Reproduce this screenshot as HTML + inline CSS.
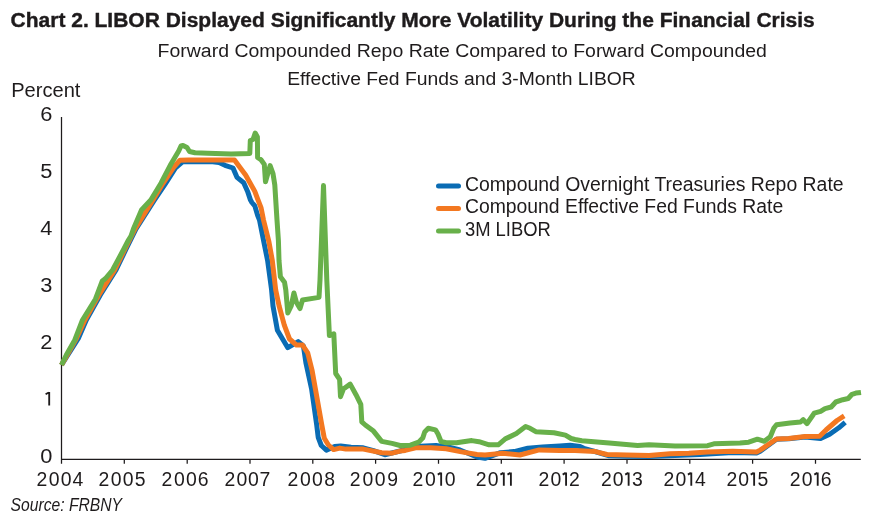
<!DOCTYPE html>
<html><head><meta charset="utf-8"><style>
html,body{margin:0;padding:0;background:#fff;width:878px;height:518px;overflow:hidden}
svg{display:block;will-change:transform}
text{font-family:"Liberation Sans",sans-serif;fill:#1E1B1C}
</style></head><body>
<svg width="878" height="518" viewBox="0 0 878 518">
<text x="10.6" y="26.9" font-size="20.9" font-weight="bold" stroke="#1E1B1C" stroke-width="0.4" textLength="804.2" lengthAdjust="spacingAndGlyphs">Chart 2. LIBOR Displayed Significantly More Volatility During the Financial Crisis</text>
<text x="157.6" y="56.6" font-size="19.2" textLength="609.3" lengthAdjust="spacingAndGlyphs">Forward Compounded Repo Rate Compared to Forward Compounded</text>
<text x="287.2" y="84.7" font-size="19.2" textLength="348.6" lengthAdjust="spacingAndGlyphs">Effective Fed Funds and 3-Month LIBOR</text>
<text x="11.2" y="96.6" font-size="19.4" textLength="69.2" lengthAdjust="spacingAndGlyphs">Percent</text>
<text transform="translate(52.3 462.5) scale(1.120 1)" text-anchor="end" font-size="19.50">0</text><path d="M45.6 394.30 L48.8 392.50 M49.2 392.00 V405.60" fill="none" stroke="#1E1B1C" stroke-width="1.85" stroke-linejoin="round"/><text transform="translate(52.3 348.5) scale(1.120 1)" text-anchor="end" font-size="19.50">2</text><text transform="translate(52.3 291.5) scale(1.120 1)" text-anchor="end" font-size="19.50">3</text><text transform="translate(52.3 234.5) scale(1.120 1)" text-anchor="end" font-size="19.50">4</text><text transform="translate(52.3 177.5) scale(1.120 1)" text-anchor="end" font-size="19.50">5</text><text transform="translate(52.3 120.5) scale(1.120 1)" text-anchor="end" font-size="19.50">6</text>
<text x="36.42" y="485.7" font-size="19.40">2</text><text x="48.66" y="485.7" font-size="19.40">0</text><text x="60.67" y="485.7" font-size="19.40">0</text><text x="72.38" y="485.7" font-size="19.40">4</text><text x="98.62" y="485.7" font-size="19.40">2</text><text x="110.84" y="485.7" font-size="19.40">0</text><text x="122.84" y="485.7" font-size="19.40">0</text><text x="134.83" y="485.7" font-size="19.40">5</text><text x="161.62" y="485.7" font-size="19.40">2</text><text x="173.92" y="485.7" font-size="19.40">0</text><text x="186.01" y="485.7" font-size="19.40">0</text><text x="197.86" y="485.7" font-size="19.40">6</text><text x="224.62" y="485.7" font-size="19.40">2</text><text x="236.47" y="485.7" font-size="19.40">0</text><text x="248.10" y="485.7" font-size="19.40">0</text><text x="259.49" y="485.7" font-size="19.40">7</text><text x="287.62" y="485.7" font-size="19.40">2</text><text x="299.97" y="485.7" font-size="19.40">0</text><text x="312.11" y="485.7" font-size="19.40">0</text><text x="324.15" y="485.7" font-size="19.40">8</text><text x="349.82" y="485.7" font-size="19.40">2</text><text x="362.46" y="485.7" font-size="19.40">0</text><text x="374.87" y="485.7" font-size="19.40">0</text><text x="387.13" y="485.7" font-size="19.40">9</text><text x="412.62" y="485.7" font-size="19.40">2</text><text x="424.93" y="485.7" font-size="19.40">0</text><path d="M437.76 474.6 L440.66 472.9 M441.16 472.4 V485.7" fill="none" stroke="#1E1B1C" stroke-width="1.85" stroke-linejoin="round"/><text x="444.77" y="485.7" font-size="19.40">0</text><text x="475.72" y="485.7" font-size="19.40">2</text><text x="487.80" y="485.7" font-size="19.40">0</text><path d="M500.41 474.6 L503.31 472.9 M503.81 472.4 V485.7" fill="none" stroke="#1E1B1C" stroke-width="1.85" stroke-linejoin="round"/><path d="M507.50 474.6 L510.40 472.9 M510.90 472.4 V485.7" fill="none" stroke="#1E1B1C" stroke-width="1.85" stroke-linejoin="round"/><text x="538.62" y="485.7" font-size="19.40">2</text><text x="550.38" y="485.7" font-size="19.40">0</text><path d="M562.68 474.6 L565.58 472.9 M566.08 472.4 V485.7" fill="none" stroke="#1E1B1C" stroke-width="1.85" stroke-linejoin="round"/><text x="569.09" y="485.7" font-size="19.40">2</text><text x="600.92" y="485.7" font-size="19.40">2</text><text x="612.81" y="485.7" font-size="19.40">0</text><path d="M625.23 474.6 L628.13 472.9 M628.63 472.4 V485.7" fill="none" stroke="#1E1B1C" stroke-width="1.85" stroke-linejoin="round"/><text x="631.96" y="485.7" font-size="19.40">3</text><text x="663.42" y="485.7" font-size="19.40">2</text><text x="675.39" y="485.7" font-size="19.40">0</text><path d="M687.89 474.6 L690.79 472.9 M691.29 472.4 V485.7" fill="none" stroke="#1E1B1C" stroke-width="1.85" stroke-linejoin="round"/><text x="694.98" y="485.7" font-size="19.40">4</text><text x="726.42" y="485.7" font-size="19.40">2</text><text x="738.31" y="485.7" font-size="19.40">0</text><path d="M750.73 474.6 L753.63 472.9 M754.13 472.4 V485.7" fill="none" stroke="#1E1B1C" stroke-width="1.85" stroke-linejoin="round"/><text x="757.43" y="485.7" font-size="19.40">5</text><text x="789.82" y="485.7" font-size="19.40">2</text><text x="801.80" y="485.7" font-size="19.40">0</text><path d="M814.31 474.6 L817.21 472.9 M817.71 472.4 V485.7" fill="none" stroke="#1E1B1C" stroke-width="1.85" stroke-linejoin="round"/><text x="820.86" y="485.7" font-size="19.40">6</text>
<text x="10.6" y="510.5" font-size="18.5" font-style="italic" textLength="111.4" lengthAdjust="spacingAndGlyphs">Source: FRBNY</text>
<path d="M61.5 117 V459.4 H860.8 M61.5 459.4 V463.8M124.3 459.4 V463.8M187.2 459.4 V463.8M250.0 459.4 V463.8M312.8 459.4 V463.8M375.6 459.4 V463.8M438.5 459.4 V463.8M501.3 459.4 V463.8M564.1 459.4 V463.8M627.0 459.4 V463.8M689.8 459.4 V463.8M752.6 459.4 V463.8M815.5 459.4 V463.8" fill="none" stroke="#1E1B1C" stroke-width="1.25"/>
<g fill="none" stroke-width="5" stroke-linejoin="round" stroke-linecap="butt">
<path d="M61.5 365.0 L78.3 338.5 L86.3 320.0 L100.3 295.0 L116.0 270.0 L125.6 250.0 L136.0 229.0 L154.5 200.0 L165.8 183.0 L175.5 168.0 L182.5 161.8 L198.3 161.5 L212.7 161.8 L219.0 162.5 L225.0 165.3 L233.0 168.0 L236.0 175.0 L237.0 177.4 L243.7 182.7 L247.6 191.4 L250.5 200.1 L251.9 202.5 L254.8 205.9 L257.7 215.6 L259.5 220.0 L263.5 240.3 L267.6 260.5 L271.6 290.0 L273.0 306.0 L277.4 330.3 L282.6 339.0 L287.8 347.7 L298.2 341.6 L303.4 346.0 L306.0 363.3 L311.6 389.0 L316.7 425.0 L318.2 437.3 L321.3 445.5 L326.4 450.1 L334.6 446.5 L340.7 446.0 L351.0 447.3 L363.3 447.8 L373.5 450.6 L384.8 454.7 L400.0 451.0 L415.0 446.5 L436.0 445.5 L450.0 447.5 L460.0 450.0 L477.0 457.0 L485.0 458.3 L500.5 452.7 L514.2 451.6 L527.8 448.2 L542.6 447.0 L559.7 446.0 L570.0 445.3 L580.0 446.5 L583.8 448.3 L596.6 452.0 L609.3 455.8 L626.3 456.3 L649.0 456.5 L675.0 455.5 L700.0 454.5 L732.7 452.5 L756.5 453.0 L760.2 451.2 L776.5 439.3 L788.7 438.8 L805.1 437.0 L820.6 438.5 L829.7 434.2 L838.8 427.8 L845.2 422.3" stroke="#0A6CB4"/>
<path d="M61.5 365.0 L76.4 338.5 L84.9 320.0 L98.9 295.0 L114.7 270.0 L124.5 250.0 L135.0 229.0 L153.0 200.0 L163.2 183.0 L173.5 167.5 L180.0 160.2 L188.6 160.0 L234.5 160.0 L240.0 167.4 L245.6 175.0 L250.5 183.7 L254.8 191.4 L257.7 199.2 L261.1 207.9 L263.5 220.0 L268.9 241.6 L272.3 260.5 L275.7 290.0 L279.1 306.0 L284.3 325.1 L289.5 339.0 L296.5 345.1 L302.5 345.1 L307.7 352.9 L312.0 370.0 L315.4 389.0 L321.8 425.0 L324.3 438.3 L328.4 445.0 L333.6 449.6 L339.7 448.1 L345.9 449.1 L363.3 449.1 L381.7 452.7 L392.0 453.2 L400.0 451.1 L405.2 450.4 L415.5 447.8 L430.9 447.8 L446.2 448.8 L461.6 451.9 L477.0 454.5 L485.0 455.0 L502.8 453.3 L519.9 455.0 L539.2 449.9 L559.7 450.5 L575.0 450.5 L595.5 451.6 L606.9 454.5 L626.3 455.1 L649.0 455.6 L670.0 453.8 L688.8 453.2 L707.6 452.0 L732.7 451.3 L756.5 452.0 L760.2 450.1 L776.5 439.0 L788.7 438.4 L805.1 436.4 L819.6 436.2 L826.0 430.0 L837.0 420.5 L844.2 415.9" stroke="#F37821"/>
<path d="M61.5 365.0 L66.3 355.0 L74.8 340.0 L82.5 320.0 L95.5 299.0 L102.3 281.0 L105.5 278.5 L112.6 270.0 L123.3 250.0 L128.5 240.0 L131.0 236.0 L133.4 229.0 L141.5 210.0 L150.8 200.0 L161.1 183.0 L171.0 164.0 L178.7 151.0 L181.0 146.0 L183.0 145.5 L187.0 147.5 L189.5 151.5 L195.0 152.8 L207.9 153.3 L231.0 154.0 L249.8 153.5 L250.3 140.5 L253.0 139.5 L255.2 133.0 L257.4 137.0 L257.6 157.4 L261.0 159.8 L264.3 164.4 L265.5 181.8 L270.1 165.6 L273.0 173.7 L274.8 185.0 L277.0 220.0 L278.4 240.3 L279.0 260.5 L280.4 276.8 L284.5 282.2 L285.8 290.0 L287.8 313.0 L291.2 306.0 L293.9 293.0 L296.5 302.6 L300.0 308.6 L302.5 300.0 L319.0 297.4 L320.0 280.0 L323.5 185.5 L326.8 280.0 L329.4 335.6 L333.8 333.8 L335.7 373.5 L339.6 379.3 L340.5 396.7 L343.4 389.0 L350.2 384.1 L356.0 394.7 L360.8 404.4 L361.8 421.8 L365.3 425.0 L373.5 431.1 L381.7 441.4 L392.0 443.4 L400.0 445.5 L410.4 445.2 L418.6 442.2 L422.7 438.1 L424.7 432.0 L428.3 428.3 L435.5 429.9 L438.0 434.0 L441.0 441.5 L446.2 442.7 L456.5 442.7 L471.8 440.6 L479.0 441.7 L489.1 444.8 L498.2 444.8 L505.0 439.1 L516.4 433.4 L525.6 426.5 L530.1 428.3 L535.8 431.7 L554.0 432.8 L565.4 435.1 L571.1 438.5 L575.0 439.5 L581.8 440.8 L609.2 443.1 L637.6 445.4 L649.0 444.8 L675.0 446.0 L707.6 445.7 L713.9 443.8 L740.0 443.0 L748.7 442.2 L757.4 439.2 L764.3 441.3 L770.3 436.7 L773.9 428.0 L776.5 424.8 L790.0 423.0 L800.5 422.0 L803.2 419.6 L806.9 423.7 L814.2 413.2 L820.6 411.4 L825.0 408.6 L831.2 407.0 L835.8 402.0 L842.8 399.7 L848.2 398.5 L852.0 394.3 L855.9 393.1 L861.0 392.4" stroke="#68B04A"/>
</g>
<g fill="none" stroke-width="5" stroke-linejoin="round" stroke-linecap="round">
<path d="M438.5 185.9 H458.5" stroke="#0A6CB4"/>
<path d="M438.5 208.5 H458.5" stroke="#F37821"/>
<path d="M438.5 231 H458.5" stroke="#68B04A"/>
</g>
<text x="464.9" y="190.6" font-size="19.4" textLength="378.7" lengthAdjust="spacingAndGlyphs">Compound Overnight Treasuries Repo Rate</text>
<text x="464.9" y="213.4" font-size="19.4" textLength="318.3" lengthAdjust="spacingAndGlyphs">Compound Effective Fed Funds Rate</text>
<text x="464.9" y="235.5" font-size="19.4" textLength="85.9" lengthAdjust="spacingAndGlyphs">3M LIBOR</text>
</svg>
</body></html>
